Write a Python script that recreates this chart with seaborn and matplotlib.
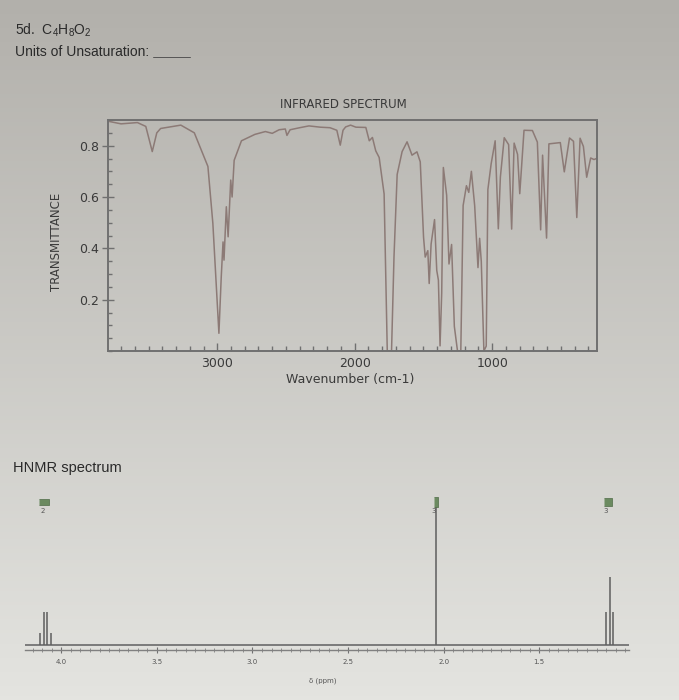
import numpy as np
import pandas as pd
import matplotlib
matplotlib.use("Agg")
import matplotlib.pyplot as plt
from matplotlib.ticker import MultipleLocator, FixedLocator
import seaborn as sns

# ---------------- data ----------------
ir_wavenumber = [3792, 3700, 3581, 3520, 3473, 3440, 3412, 3265, 3167, 3068, 3032, 2988,
                 2971, 2958, 2951, 2934, 2921, 2902, 2892, 2877, 2824, 2726, 2650, 2600,
                 2550, 2505, 2493, 2470, 2400, 2333, 2250, 2180, 2130, 2105, 2085, 2066,
                 2030, 1991, 1919, 1894, 1871, 1847, 1822, 1786, 1763, 1732, 1714, 1691,
                 1655, 1619, 1583, 1547, 1523, 1499, 1487, 1468, 1458, 1444, 1419, 1403,
                 1391, 1379, 1367, 1355, 1331, 1314, 1295, 1275, 1252, 1228, 1211, 1187,
                 1170, 1151, 1127, 1103, 1091, 1079, 1060, 1043, 1031, 1007, 978, 955,
                 940, 912, 880, 858, 840, 815, 799, 768, 707, 671, 647, 633, 604, 587,
                 504, 475, 437, 408, 384, 360, 336, 312, 283, 259, 240]
ir_transmittance = [0.895, 0.885, 0.89, 0.875, 0.777, 0.85, 0.867, 0.88, 0.85, 0.719, 0.497, 0.069,
                    0.289, 0.425, 0.354, 0.562, 0.445, 0.666, 0.600, 0.743, 0.819, 0.844, 0.855, 0.848,
                    0.862, 0.865, 0.84, 0.862, 0.87, 0.877, 0.872, 0.87, 0.86, 0.802, 0.86, 0.873,
                    0.88, 0.872, 0.871, 0.819, 0.832, 0.78, 0.754, 0.612, 0.0, 0.0, 0.368, 0.688,
                    0.777, 0.815, 0.763, 0.776, 0.737, 0.443, 0.366, 0.391, 0.263, 0.417, 0.512, 0.314,
                    0.276, 0.02, 0.225, 0.715, 0.607, 0.339, 0.415, 0.096, 0.0, 0.0, 0.567, 0.644,
                    0.618, 0.70, 0.566, 0.325, 0.439, 0.349, 0.0, 0.019, 0.629, 0.73, 0.819, 0.476,
                    0.678, 0.831, 0.804, 0.475, 0.81, 0.766, 0.613, 0.86, 0.859, 0.814, 0.472, 0.763, 0.44, 0.807,
                    0.812, 0.698, 0.83, 0.817, 0.52, 0.829, 0.797, 0.677, 0.752, 0.746, 0.75]
ir_xticks = [3000, 2000, 1000]
ir_yticks = [0.2, 0.4, 0.6, 0.8]

nmr_peak_ppm = [4.110, 4.092, 4.074, 4.056, 2.042, 1.149, 1.131, 1.112]
nmr_peak_height = [0.085, 0.23, 0.23, 0.085, 1.0, 0.233, 0.478, 0.233]
nmr_xticks = [4.0, 3.5, 3.0, 2.5, 2.0, 1.5]
integ_ppm = [4.088, 2.042, 1.140]
integ_labels = ["2", "3", "3"]

# ---------------- style ----------------
sns.set_theme(style="white")
plt.rcParams["font.family"] = ["DejaVu Sans"]
plt.rcParams["mathtext.default"] = "regular"

W, H = 679, 700
fig = plt.figure(figsize=(W / 100, H / 100), dpi=100)

# paper background (photo-like gradient)
bg = fig.add_axes([0, 0, 1, 1], zorder=-10)
top = np.array([178, 176, 171]) / 255
bot = np.array([228, 228, 224]) / 255
t = np.linspace(0, 1, 200)[:, None, None]
grad = top * (1 - t) + bot * t
grad = np.repeat(grad, 2, axis=1)
bg.imshow(grad, aspect="auto", extent=[0, 1, 0, 1])
bg.axis("off")

def fx(px):
    return px / W

def fy(py):
    return 1 - py / H

# ---------------- header texts ----------------
fig.text(fx(15), fy(30), r"5d.  C$_4$H$_8$O$_2$", family="Liberation Sans",
         fontsize=10, color="#2a2a2a", va="center", ha="left")
fig.text(fx(15), fy(52), "Units of Unsaturation:", family="Liberation Sans",
         fontsize=10, color="#2a2a2a", va="center", ha="left")
fig.add_artist(plt.Line2D([fx(153), fx(190)], [fy(57), fy(57)], color="#555555", lw=0.7))

# ---------------- IR spectrum ----------------
ir = fig.add_axes([fx(108), fy(351), 489 / W, 231 / H])
ir.patch.set_alpha(0)
ir_df = pd.DataFrame({"wavenumber": ir_wavenumber, "transmittance": ir_transmittance})
sns.lineplot(data=ir_df, x="wavenumber", y="transmittance", ax=ir, sort=False,
             estimator=None, color="#8c7a76", lw=1.1)
ir.set_xlim(3795, 237)
ir.set_ylim(0, 0.9)
ir.xaxis.set_major_locator(FixedLocator(ir_xticks))
ir.xaxis.set_minor_locator(MultipleLocator(100))
ir.yaxis.set_major_locator(FixedLocator(ir_yticks))
ir.yaxis.set_minor_locator(MultipleLocator(0.05))
ir.set_xticklabels([str(v) for v in ir_xticks])
ir.set_yticklabels([f"{v:.1f}" for v in ir_yticks])
for s in ir.spines.values():
    s.set_color("#707070")
    s.set_linewidth(1.4)
ir.tick_params(which="major", axis="y", direction="inout", length=9, width=1, color="#707070",
               labelsize=9, labelcolor="#3a3a3a", pad=2, left=True)
ir.tick_params(which="minor", axis="y", direction="in", length=3, width=1, color="#707070", left=True)
ir.tick_params(which="major", axis="x", direction="in", length=6, width=1, color="#707070",
               labelsize=9, labelcolor="#3a3a3a", pad=4, bottom=True)
ir.tick_params(which="minor", axis="x", direction="in", length=3.5, width=1, color="#707070", bottom=True)
ir.set_xlabel("")
ir.set_ylabel("")
fig.text(fx(343), fy(104), "INFRARED SPECTRUM", fontsize=8.5, color="#3a3a3a",
         ha="center", va="center")
fig.text(fx(350), fy(380), "Wavenumber (cm-1)", fontsize=9, color="#3a3a3a",
         ha="center", va="center")
fig.text(fx(57), fy(242), "TRANSMITTANCE", fontsize=8.5, color="#3a3a3a",
         ha="center", va="center", rotation=90)

# ---------------- HNMR ----------------
fig.text(fx(13), fy(468), "HNMR spectrum", family="Liberation Sans", fontsize=10.5,
         color="#2a2a2a", ha="left", va="center")

nmr = fig.add_axes([fx(25), fy(650), 604 / W, 162.3 / H])
nmr.patch.set_alpha(0)
nmr.set_xlim(4.19, 1.03)
nmr.set_ylim(-0.035, 1.1)
nmr.axhline(0, color="#6a6a6a", lw=1.2)
nmr_df = pd.DataFrame({"ppm": nmr_peak_ppm, "height": nmr_peak_height})
nmr.vlines(nmr_df["ppm"], 0, nmr_df["height"], color="#5e5e5e", lw=1.1)
marker_shapes = [
    [(-1, -0.6), (1, -0.6), (1, 0.6), (-1, 0.6)],
    [(-0.45, -1), (0.45, -1), (0.45, 1), (-0.45, 1)],
    [(-1, -1), (1, -1), (1, 1), (-1, 1)],
]
marker_sizes = [60, 45, 40]
for p, shp, sz in zip(integ_ppm, marker_shapes, marker_sizes):
    nmr.scatter([p], [1.0], marker=shp, s=sz, color="#6b8a60",
                edgecolor="#4f6b47", lw=0.5, zorder=5)
for p, lab in zip(integ_ppm, integ_labels):
    nmr.text(p + 0.01, 0.935, lab, fontsize=5, color="#555555", ha="center", va="center")
for side in ["top", "left", "right"]:
    nmr.spines[side].set_visible(False)
nmr.spines["bottom"].set_color("#808080")
nmr.spines["bottom"].set_linewidth(1.0)
nmr.xaxis.set_major_locator(FixedLocator(nmr_xticks))
nmr.xaxis.set_minor_locator(MultipleLocator(0.05))
nmr.set_xticklabels([f"{v:.1f}" for v in nmr_xticks])
nmr.set_yticks([])
nmr.tick_params(which="major", axis="x", direction="inout", length=5, width=0.8, color="#707070",
                labelsize=5, labelcolor="#555555", pad=4, bottom=True)
nmr.tick_params(which="minor", axis="x", direction="inout", length=3, width=0.6, color="#808080", bottom=True)
fig.text(fx(323), fy(681), "δ (ppm)", fontsize=5, color="#555555", ha="center", va="center")

fig.savefig("out.png", dpi=100)
